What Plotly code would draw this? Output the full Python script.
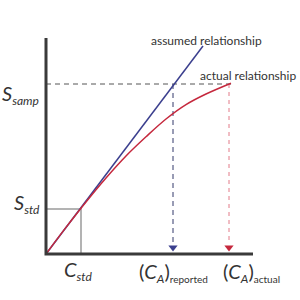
import plotly.graph_objects as go

# data (schematic units)
c_std = 1.75
s_std = 2.25
s_samp = 8.5
c_reported = 6.35
c_actual = 9.15
x_axis_end = 10.35
y_axis_end = 10.8

assumed_x = [0, 7.85]
assumed_y = [0, 10.4]

actual_x = [0, 1, 2, 3, 4, 5, 6, 7, 8, 9.25]
actual_y = [0, 1.33, 2.6, 3.8, 4.9, 5.86, 6.75, 7.47, 8.0, 8.54]

BLUE = "#3b3f8e"
RED = "#c5283d"
AXIS = "#3a3a3a"
FONT = "Lato"

fig = go.Figure()

def line(xs, ys, color, width, dash=None, shape="linear"):
    fig.add_trace(go.Scatter(x=xs, y=ys, mode="lines",
                             line=dict(color=color, width=width, dash=dash, shape=shape),
                             hoverinfo="skip", showlegend=False))

# standard guide lines
line([0, c_std, c_std], [s_std, s_std, 0], "#9a9a9a", 1.5)
# dashed guides
line([0, actual_x[-1]], [s_samp, s_samp], "#555555", 1, "5px,4px")
line([c_reported, c_reported], [s_samp, 0.55], "#33386a", 1, "5px,4px")
line([c_actual, c_actual], [s_samp, 0.55], "#e27a88", 1, "4px,4px")
# arrow heads
fig.add_trace(go.Scatter(x=[c_reported], y=[0.32], mode="markers",
                         marker=dict(symbol="triangle-down", size=8, color=BLUE),
                         hoverinfo="skip", showlegend=False))
fig.add_trace(go.Scatter(x=[c_actual], y=[0.32], mode="markers",
                         marker=dict(symbol="triangle-down", size=8, color=RED),
                         hoverinfo="skip", showlegend=False))
# relationships
line(assumed_x, assumed_y, BLUE, 1.5)
line(actual_x, actual_y, RED, 1.5, shape="spline")
# axes
line([0, 0, x_axis_end], [y_axis_end, 0, 0], AXIS, 3)

def sub(t, size=12):
    return f"<sub><span style='font-size:{size}px'>{t}</span></sub>"

def label(text, x, y, size, xanchor="left", color="#333333"):
    fig.add_annotation(x=x, y=y, xref="x", yref="y", text=text, showarrow=False,
                       xanchor=xanchor, yanchor="middle",
                       font=dict(family=FONT, size=size, color=color))

label("<i>S</i>" + sub("<i>samp</i>"), -0.25, 8.0, 20, "right")
label("<i>S</i>" + sub("<i>std</i>"), -0.2, 2.55, 20, "right")
label("<i>C</i>" + sub("<i>std</i>"), 1.6, -0.8, 20, "center")
label("(<i>C</i>" + sub("<i>A</i>") + ")" + sub("reported", 10), 4.55, -0.9, 20)
label("(<i>C</i>" + sub("<i>A</i>") + ")" + sub("actual", 10), 8.75, -0.9, 20)
label("assumed relationship", 5.15, 10.7, 12)
label("actual relationship", 7.6, 8.95, 12)

fig.update_layout(
    width=300, height=300,
    margin=dict(l=26, r=34, t=14, b=26),
    paper_bgcolor="white", plot_bgcolor="white",
    xaxis=dict(range=[-1, 11], visible=False, fixedrange=True),
    yaxis=dict(range=[-1, 12], visible=False, fixedrange=True),
)

fig.write_html("out.html")
